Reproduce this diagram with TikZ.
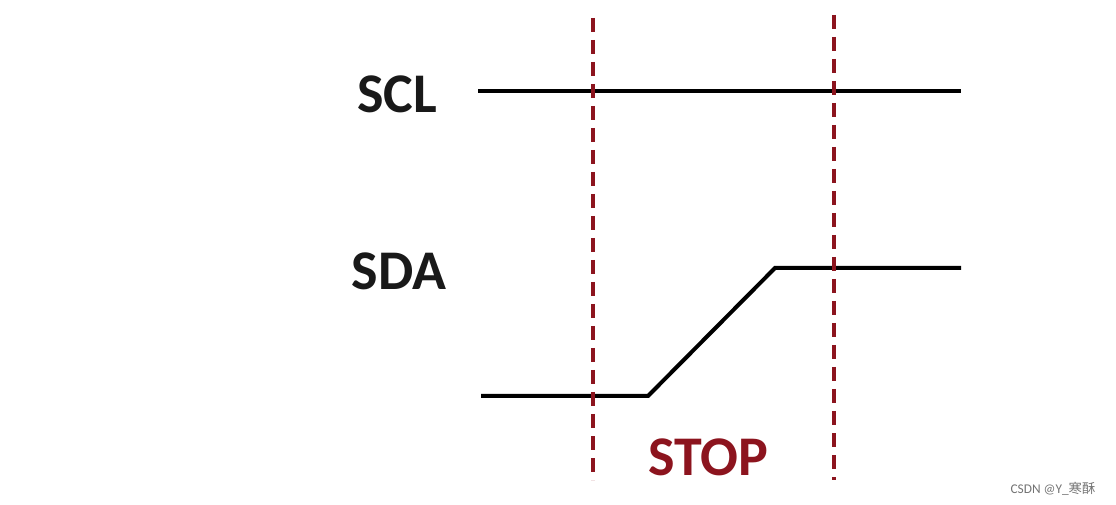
\documentclass[tikz,border=0pt]{standalone}
\usepackage{fontspec}
\setmainfont{Carlito}
\newfontfamily\cjk{Noto Sans CJK SC}
\begin{document}
\begin{tikzpicture}[x=0.75pt,y=-0.75pt]
\definecolor{dred}{RGB}{140,20,30}
\tikzset{sig/.style={line width=3pt,black},
  mark line/.style={line width=3pt,dred,dash pattern=on 10.5pt off 6pt},
  lbl/.style={font=\fontsize{42}{44}\selectfont\bfseries,text=black!90}}
\useasboundingbox (0,0) rectangle (1116,505);
\node[lbl] (scl) at (397,94) {SCL};
\node[lbl] (sda) at (399,271) {SDA};
\node[lbl,text=dred] (stop) at (708,457) {STOP};
\coordinate (a1) at (478,91); \coordinate (a2) at (961,91);
\draw[sig] (a1) -- (a2);
\coordinate (b1) at (481,396); \coordinate (b2) at (648,396);
\coordinate (b3) at (775,268); \coordinate (b4) at (961,268);
\draw[sig,line join=miter] (b1) -- (b2) -- (b3) -- (b4);
\coordinate (d1) at (593,18); \coordinate (d2) at (593,480);
\coordinate (e1) at (834,15); \coordinate (e2) at (834,480);
\draw[mark line] (d1) -- (d2);
\draw[mark line] (e1) -- (e2);
\node[text=black!55,font=\fontsize{10}{12}\selectfont] (wm) at (1053,489) {CSDN @Y\_{\cjk 寒酥}};
\end{tikzpicture}
\end{document}
